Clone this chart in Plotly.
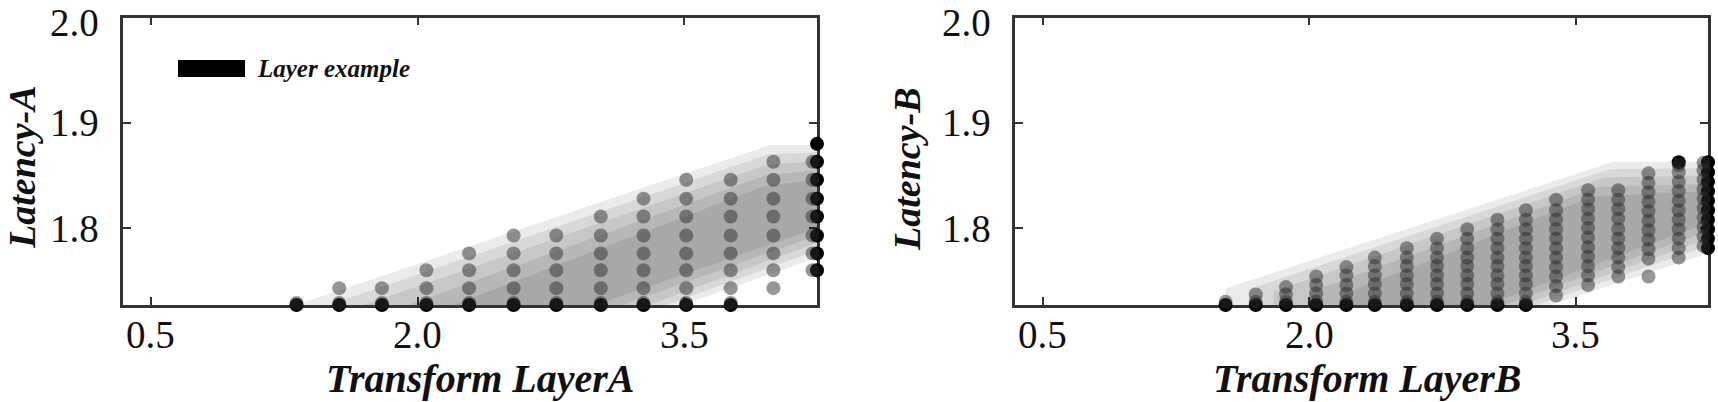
import plotly.graph_objects as go

# ------------------------------------------------------------------ data
x_ticks = [0.5, 2.0, 3.5]
x_tick_text = ["0.5", "2.0", "3.5"]
y_ticks = [1.8, 1.9, 2.0]
y_tick_text = ["1.8", "1.9", "2.0"]
x_range = [0.345, 4.245]
y_range = [1.727, 2.0]

# Panel A : candidate grid (gray) per column
colsA_x = [1.32, 1.56, 1.80, 2.05, 2.29, 2.54, 2.78, 3.03, 3.27, 3.51, 3.76, 4.00, 4.22]
colsA_y = [
    [1.729],
    [1.729, 1.743],
    [1.729, 1.743],
    [1.729, 1.743, 1.760],
    [1.729, 1.743, 1.760, 1.776],
    [1.729, 1.743, 1.760, 1.776, 1.793],
    [1.729, 1.743, 1.760, 1.776, 1.793],
    [1.729, 1.743, 1.760, 1.776, 1.793, 1.811],
    [1.729, 1.743, 1.760, 1.776, 1.793, 1.811, 1.828],
    [1.729, 1.743, 1.760, 1.776, 1.793, 1.811, 1.828, 1.846],
    [1.729, 1.743, 1.760, 1.776, 1.793, 1.811, 1.828, 1.846],
    [1.743, 1.760, 1.776, 1.793, 1.811, 1.828, 1.846, 1.863],
    [1.760, 1.776, 1.793, 1.811, 1.828, 1.846, 1.863],
]
# Panel A : layer example (black)
exA_x = [1.32, 1.56, 1.80, 2.05, 2.29, 2.54, 2.78, 3.03, 3.27, 3.51, 3.76,
         4.245, 4.245, 4.245, 4.245, 4.245, 4.245, 4.245, 4.245]
exA_y = [1.727, 1.727, 1.727, 1.727, 1.727, 1.727, 1.727, 1.727, 1.727, 1.727, 1.727,
         1.760, 1.776, 1.793, 1.811, 1.828, 1.846, 1.863, 1.880]
# Panel A : shaded density band (outer -> inner)
bandA_x = [
    [1.315, 3.98, 4.245, 4.245, 3.49, 1.315],
    [1.50, 3.97, 4.245, 4.245, 3.40, 1.50],
    [1.70, 3.96, 4.245, 4.245, 3.30, 1.70],
    [1.95, 3.95, 4.245, 4.245, 3.15, 1.95],
    [2.20, 3.95, 4.245, 4.245, 3.00, 2.20],
]
bandA_y = [
    [1.727, 1.879, 1.879, 1.772, 1.727, 1.727],
    [1.727, 1.870, 1.872, 1.779, 1.727, 1.727],
    [1.727, 1.860, 1.864, 1.786, 1.727, 1.727],
    [1.727, 1.850, 1.855, 1.793, 1.727, 1.727],
    [1.727, 1.840, 1.846, 1.800, 1.727, 1.727],
]

# Panel B : candidate grid (gray) per column
colsB_x = [1.53, 1.70, 1.87, 2.04, 2.21, 2.37, 2.55, 2.72, 2.89, 3.06, 3.22,
           3.39, 3.57, 3.74, 3.91, 4.08, 4.22]
colsB_y = [
    [1.730],
    [1.730, 1.737],
    [1.730, 1.737, 1.744],
    [1.730, 1.738, 1.746, 1.754],
    [1.730, 1.738, 1.746, 1.755, 1.763],
    [1.730, 1.738, 1.747, 1.755, 1.764, 1.772],
    [1.730, 1.738, 1.747, 1.755, 1.764, 1.772, 1.781],
    [1.730, 1.738, 1.747, 1.755, 1.764, 1.772, 1.781, 1.790],
    [1.730, 1.738, 1.747, 1.755, 1.764, 1.772, 1.781, 1.790, 1.799],
    [1.730, 1.738, 1.747, 1.755, 1.764, 1.772, 1.781, 1.790, 1.799, 1.808],
    [1.730, 1.738, 1.747, 1.755, 1.764, 1.772, 1.781, 1.790, 1.799, 1.808, 1.817],
    [1.736, 1.745, 1.754, 1.763, 1.772, 1.781, 1.790, 1.799, 1.808, 1.817, 1.827],
    [1.746, 1.755, 1.764, 1.773, 1.782, 1.791, 1.800, 1.809, 1.818, 1.827, 1.836],
    [1.754, 1.763, 1.772, 1.781, 1.790, 1.799, 1.809, 1.818, 1.827, 1.836],
    [1.754, 1.771, 1.780, 1.789, 1.798, 1.807, 1.816, 1.825, 1.834, 1.843, 1.852],
    [1.772, 1.781, 1.790, 1.799, 1.808, 1.817, 1.826, 1.835, 1.844, 1.853, 1.860],
    [1.783, 1.792, 1.801, 1.810, 1.819, 1.828, 1.837, 1.846, 1.855, 1.862],
]
# Panel B : layer example (black)
exB_x = [1.53, 1.70, 1.87, 2.04, 2.21, 2.37, 2.55, 2.72, 2.89, 3.06, 3.22, 4.08,
         4.245, 4.245, 4.245, 4.245, 4.245, 4.245, 4.245, 4.245, 4.245, 4.245]
exB_y = [1.727, 1.727, 1.727, 1.727, 1.727, 1.727, 1.727, 1.727, 1.727, 1.727, 1.727, 1.8626,
         1.781, 1.790, 1.799, 1.808, 1.817, 1.826, 1.835, 1.844, 1.853, 1.8626]
# Panel B : shaded density band (outer -> inner)
bandB_x = [
    [1.53, 1.53, 3.71, 4.245, 4.245, 3.36, 1.53],
    [1.66, 1.66, 3.69, 4.245, 4.245, 3.28, 1.66],
    [1.80, 1.80, 3.66, 4.245, 4.245, 3.20, 1.80],
    [2.00, 2.00, 3.63, 4.245, 4.245, 3.10, 2.00],
    [2.20, 2.20, 3.60, 4.245, 4.245, 3.00, 2.20],
]
bandB_y = [
    [1.727, 1.743, 1.863, 1.863, 1.776, 1.727, 1.727],
    [1.727, 1.742, 1.856, 1.857, 1.783, 1.727, 1.727],
    [1.727, 1.740, 1.848, 1.850, 1.790, 1.727, 1.727],
    [1.727, 1.739, 1.839, 1.842, 1.797, 1.727, 1.727],
    [1.727, 1.738, 1.830, 1.835, 1.805, 1.727, 1.727],
]

x_titles = ["Transform LayerA", "Transform LayerB"]
y_titles = ["Latency-A", "Latency-B"]
legend_label = "Layer example"

# ------------------------------------------------------------------ style
W, H = 1718, 402
SERIF = "Liberation Serif"
band_alpha = 0.08
GRAY = "rgba(45,45,45,0.5)"
DOT = 14

fig = go.Figure()


def add_panel(xa, ya, cols_x, cols_y, ex_x, ex_y, band_x, band_y):
    for bx, by in zip(band_x, band_y):
        fig.add_trace(go.Scatter(x=bx, y=by, mode="lines", fill="toself",
                                 fillcolor=f"rgba(0,0,0,{band_alpha})", line=dict(width=0),
                                 hoverinfo="skip", showlegend=False, xaxis=xa, yaxis=ya))
    fig.add_trace(go.Scatter(x=ex_x, y=ex_y, mode="markers", name=legend_label,
                             marker=dict(color="black", size=DOT, line=dict(width=0)),
                             cliponaxis=False, showlegend=False, xaxis=xa, yaxis=ya))
    gx = [x for x, ys in zip(cols_x, cols_y) for _ in ys]
    gy = [y for ys in cols_y for y in ys]
    fig.add_trace(go.Scatter(x=gx, y=gy, mode="markers", name="candidates",
                             marker=dict(color=GRAY, size=DOT, line=dict(width=0)),
                             cliponaxis=False, showlegend=False, xaxis=xa, yaxis=ya))


add_panel("x", "y", colsA_x, colsA_y, exA_x, exA_y, bandA_x, bandA_y)
add_panel("x2", "y2", colsB_x, colsB_y, exB_x, exB_y, bandB_x, bandB_y)

common = dict(ticks="inside", ticklen=8, tickwidth=2, tickcolor="#333", showline=True,
              linewidth=2.5, linecolor="#333", mirror="ticks", showgrid=False,
              zeroline=False, showticklabels=False, layer="below traces",
              automargin=False)
common_x = dict(range=x_range, tickvals=x_ticks, **common)
common_y = dict(range=y_range, tickvals=y_ticks, **common)

top, bottom = 17.5, 305
fig.update_layout(
    template="none",
    width=W, height=H, margin=dict(l=0, r=0, t=0, b=0, pad=0),
    paper_bgcolor="white", plot_bgcolor="white", showlegend=False,
    xaxis=dict(domain=[123 / W, 817 / W], anchor="y", **common_x),
    yaxis=dict(domain=[1 - bottom / H, 1 - top / H], anchor="x", **common_y),
    xaxis2=dict(domain=[1015 / W, 1708 / W], anchor="y2", **common_x),
    yaxis2=dict(domain=[1 - bottom / H, 1 - top / H], anchor="x2", **common_y),
)

tick_font = dict(family=SERIF, size=39, color="#111")
xt_font = dict(family=SERIF, size=40, color="#111", weight="bold", style="italic")
yt_font = dict(family=SERIF, size=38, color="#111", weight="bold", style="italic")

annotations = []
# tick labels placed through each axis' own scale
for xa, ya in (("x", "y"), ("x2", "y2")):
    for v, t in zip(x_ticks, x_tick_text):
        annotations.append(dict(text=t, x=v, xref=xa, y=0, yref=f"{ya} domain",
                                xanchor="center", yanchor="top", yshift=-6,
                                showarrow=False, font=tick_font))
    for v, t in zip(y_ticks, y_tick_text):
        # the top label would poke past the page edge; nudge it just inside
        annotations.append(dict(text=t, x=0, xref=f"{xa} domain", y=v, yref=ya,
                                xanchor="right", yanchor="middle", xshift=-22,
                                yshift=-5 if v == y_range[1] else 0,
                                showarrow=False, font=tick_font))

annotations += [
    dict(text=x_titles[0], x=480 / W, y=1 - 378 / H, xref="paper", yref="paper",
         xanchor="center", yanchor="middle", showarrow=False, font=xt_font),
    dict(text=x_titles[1], x=1367 / W, y=1 - 378 / H, xref="paper", yref="paper",
         xanchor="center", yanchor="middle", showarrow=False, font=xt_font),
    dict(text=y_titles[0], x=22 / W, y=1 - 167 / H, xref="paper", yref="paper",
         xanchor="center", yanchor="middle", textangle=-90, showarrow=False, font=yt_font),
    dict(text=y_titles[1], x=907 / W, y=1 - 169 / H, xref="paper", yref="paper",
         xanchor="center", yanchor="middle", textangle=-90, showarrow=False, font=yt_font),
    dict(text=legend_label, x=255 / W, y=1 - 68 / H, xref="paper", yref="paper",
         xanchor="left", yanchor="middle", showarrow=False,
         font=dict(family=SERIF, size=25, color="#111", weight="bold", style="italic")),
]
fig.update_layout(annotations=annotations)
fig.add_shape(type="rect", xref="paper", yref="paper",
              x0=178 / W, x1=245 / W, y0=1 - 77 / H, y1=1 - 60 / H,
              fillcolor="black", line=dict(width=0))

fig.write_html("out.html")
